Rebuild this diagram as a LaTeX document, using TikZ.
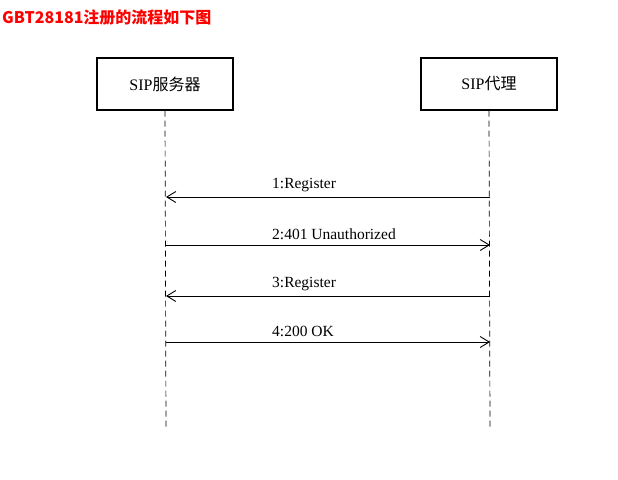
\documentclass[tikz,border=0pt]{standalone}
\usepackage{fontspec}
\setmainfont{Liberation Serif}
\newfontfamily\cjk{Noto Sans CJK SC}
\usetikzlibrary{arrows.meta}
\begin{document}
\begin{tikzpicture}[x=1pt,y=-1pt,
  box/.style={draw,line width=1.4pt,minimum width=136pt,minimum height=52pt,inner sep=0pt,font=\fontsize{16}{18}\selectfont},
  life/.style={dashed,dash pattern=on 6pt off 4pt,line width=0.7pt},
  msg/.style={line width=0.9pt,-{Straight Barb[length=9pt,width=11pt]}},
  lbl/.style={font=\fontsize{15.5}{17}\selectfont,anchor=south west,inner sep=1pt}]
\useasboundingbox (0,0) rectangle (618,479);
\node[anchor=west,text=red,font=\cjk\bfseries\fontsize{16}{18}\selectfont,inner sep=0pt] (t) at (2,17) {GBT28181注册的流程如下图};
\node[box] (s) at (165,84) {SIP{\cjk 服务器}};
\node[box] (a) at (489,84) {SIP{\cjk 代理}};
\coordinate (se) at (166,428);
\coordinate (ae) at (490,428);
\draw[life] (s.south) -- (se);
\draw[life] (a.south) -- (ae);
\foreach \y/\n in {197/1,245/2,296/3,342/4}{
  \coordinate (sl\n) at (166,\y);
  \coordinate (al\n) at (490,\y);
  \coordinate (lb\n) at (271,\y-4);
}
\draw[msg] (al1) -- (sl1);
\draw[msg] (sl2) -- (al2);
\draw[msg] (al3) -- (sl3);
\draw[msg] (sl4) -- (al4);
\node[lbl] (l1) at (lb1) {1:Register};
\node[lbl] (l2) at (lb2) {2:401 Unauthorized};
\node[lbl] (l3) at (lb3) {3:Register};
\node[lbl] (l4) at (lb4) {4:200 OK};
\end{tikzpicture}
\end{document}
